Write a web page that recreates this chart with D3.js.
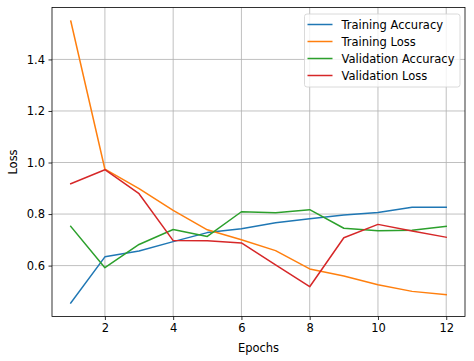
<!DOCTYPE html>
<html>
<head>
<meta charset="utf-8">
<script src="https://cdn.jsdelivr.net/npm/d3@7"></script>
<style>
  body { margin: 0; background: #fff; }
</style>
</head>
<body>
<svg></svg>
<script>
const width = 474;
const height = 361;

// data
const epochs = [1, 2, 3, 4, 5, 6, 7, 8, 9, 10, 11, 12];
const trainAcc = [0.455, 0.634, 0.657, 0.693, 0.728, 0.743, 0.766, 0.782, 0.796, 0.806, 0.826, 0.826];
const trainLoss = [1.549, 0.974, 0.899, 0.814, 0.739, 0.700, 0.658, 0.587, 0.560, 0.526, 0.500, 0.487];
const valAcc = [0.752, 0.592, 0.682, 0.740, 0.713, 0.809, 0.805, 0.817, 0.745, 0.735, 0.737, 0.752];
const valLoss = [0.918, 0.972, 0.879, 0.697, 0.696, 0.688, 0.603, 0.518, 0.708, 0.760, 0.734, 0.710];
const xTicks = [2, 4, 6, 8, 10, 12];
const yTicks = [0.6, 0.8, 1.0, 1.2, 1.4];

const series = [
  { name: "Training Accuracy", values: trainAcc, color: "#1f77b4" },
  { name: "Training Loss", values: trainLoss, color: "#ff7f0e" },
  { name: "Validation Accuracy", values: valAcc, color: "#2ca02c" },
  { name: "Validation Loss", values: valLoss, color: "#d62728" }
];

const margin = { top: 7.5, right: 9, bottom: 44.5, left: 52 };
const innerW = width - margin.left - margin.right;
const innerH = height - margin.top - margin.bottom;
const font = "DejaVu Sans";
const fontSize = 11.5;

const svg = d3.select("svg")
  .attr("width", width)
  .attr("height", height)
  .attr("font-family", font);

const g = svg.append("g")
  .attr("transform", `translate(${margin.left},${margin.top})`);

const x = d3.scaleLinear().domain([0.45, 12.55]).range([0, innerW]);
const y = d3.scaleLinear().domain([0.4025, 1.6015]).range([innerH, 0]);

// grid
g.append("g")
  .selectAll("line")
  .data(xTicks)
  .enter()
  .append("line")
  .attr("x1", d => x(d)).attr("x2", d => x(d))
  .attr("y1", 0).attr("y2", innerH)
  .attr("stroke", "#b0b0b0").attr("stroke-width", 0.8);

g.append("g")
  .selectAll("line")
  .data(yTicks)
  .enter()
  .append("line")
  .attr("x1", 0).attr("x2", innerW)
  .attr("y1", d => y(d)).attr("y2", d => y(d))
  .attr("stroke", "#b0b0b0").attr("stroke-width", 0.8);

// lines
const line = d3.line()
  .x((d, i) => x(epochs[i]))
  .y(d => y(d));

g.selectAll("path.series")
  .data(series)
  .enter()
  .append("path")
  .attr("class", "series")
  .attr("d", d => line(d.values))
  .attr("fill", "none")
  .attr("stroke", d => d.color)
  .attr("stroke-width", 1.5)
  .attr("stroke-linejoin", "round")
  .attr("stroke-linecap", "square");

// axes
const xAxis = g.append("g")
  .attr("transform", `translate(0,${innerH})`)
  .call(d3.axisBottom(x).tickValues(xTicks).tickFormat(d3.format("d")).tickSize(3.5).tickPadding(3.5));

const yAxis = g.append("g")
  .call(d3.axisLeft(y).tickValues(yTicks).tickFormat(d3.format(".1f")).tickSize(3.5).tickPadding(3.5));

[xAxis, yAxis].forEach(a => {
  a.attr("font-family", font).attr("font-size", fontSize);
  a.select(".domain").remove();
  a.selectAll(".tick line").attr("stroke", "#000").attr("stroke-width", 0.8);
  a.selectAll(".tick text").attr("fill", "#000");
});

// frame
g.append("rect")
  .attr("width", innerW).attr("height", innerH)
  .attr("fill", "none").attr("stroke", "#000").attr("stroke-width", 0.8);

// axis labels
svg.append("text")
  .attr("x", margin.left + innerW / 2)
  .attr("y", 352)
  .attr("text-anchor", "middle")
  .attr("font-size", fontSize)
  .text("Epochs");

svg.append("text")
  .attr("transform", `translate(17,${margin.top + innerH / 2}) rotate(-90)`)
  .attr("text-anchor", "middle")
  .attr("font-size", fontSize)
  .text("Loss");

// legend
const legend = svg.append("g").attr("transform", "translate(304.5,14)");
legend.append("rect")
  .attr("width", 155.5).attr("height", 73)
  .attr("rx", 2.5)
  .attr("fill", "#fff").attr("fill-opacity", 0.8)
  .attr("stroke", "#d0d0d0").attr("stroke-width", 0.8);

const items = legend.selectAll("g.item")
  .data(series)
  .enter()
  .append("g")
  .attr("class", "item")
  .attr("transform", (d, i) => `translate(0,${10.5 + i * 17})`);

items.append("line")
  .attr("x1", 3).attr("x2", 28)
  .attr("stroke", d => d.color).attr("stroke-width", 1.5);

items.append("text")
  .attr("x", 37).attr("y", 4)
  .attr("font-size", fontSize)
  .text(d => d.name);
</script>
</body>
</html>
